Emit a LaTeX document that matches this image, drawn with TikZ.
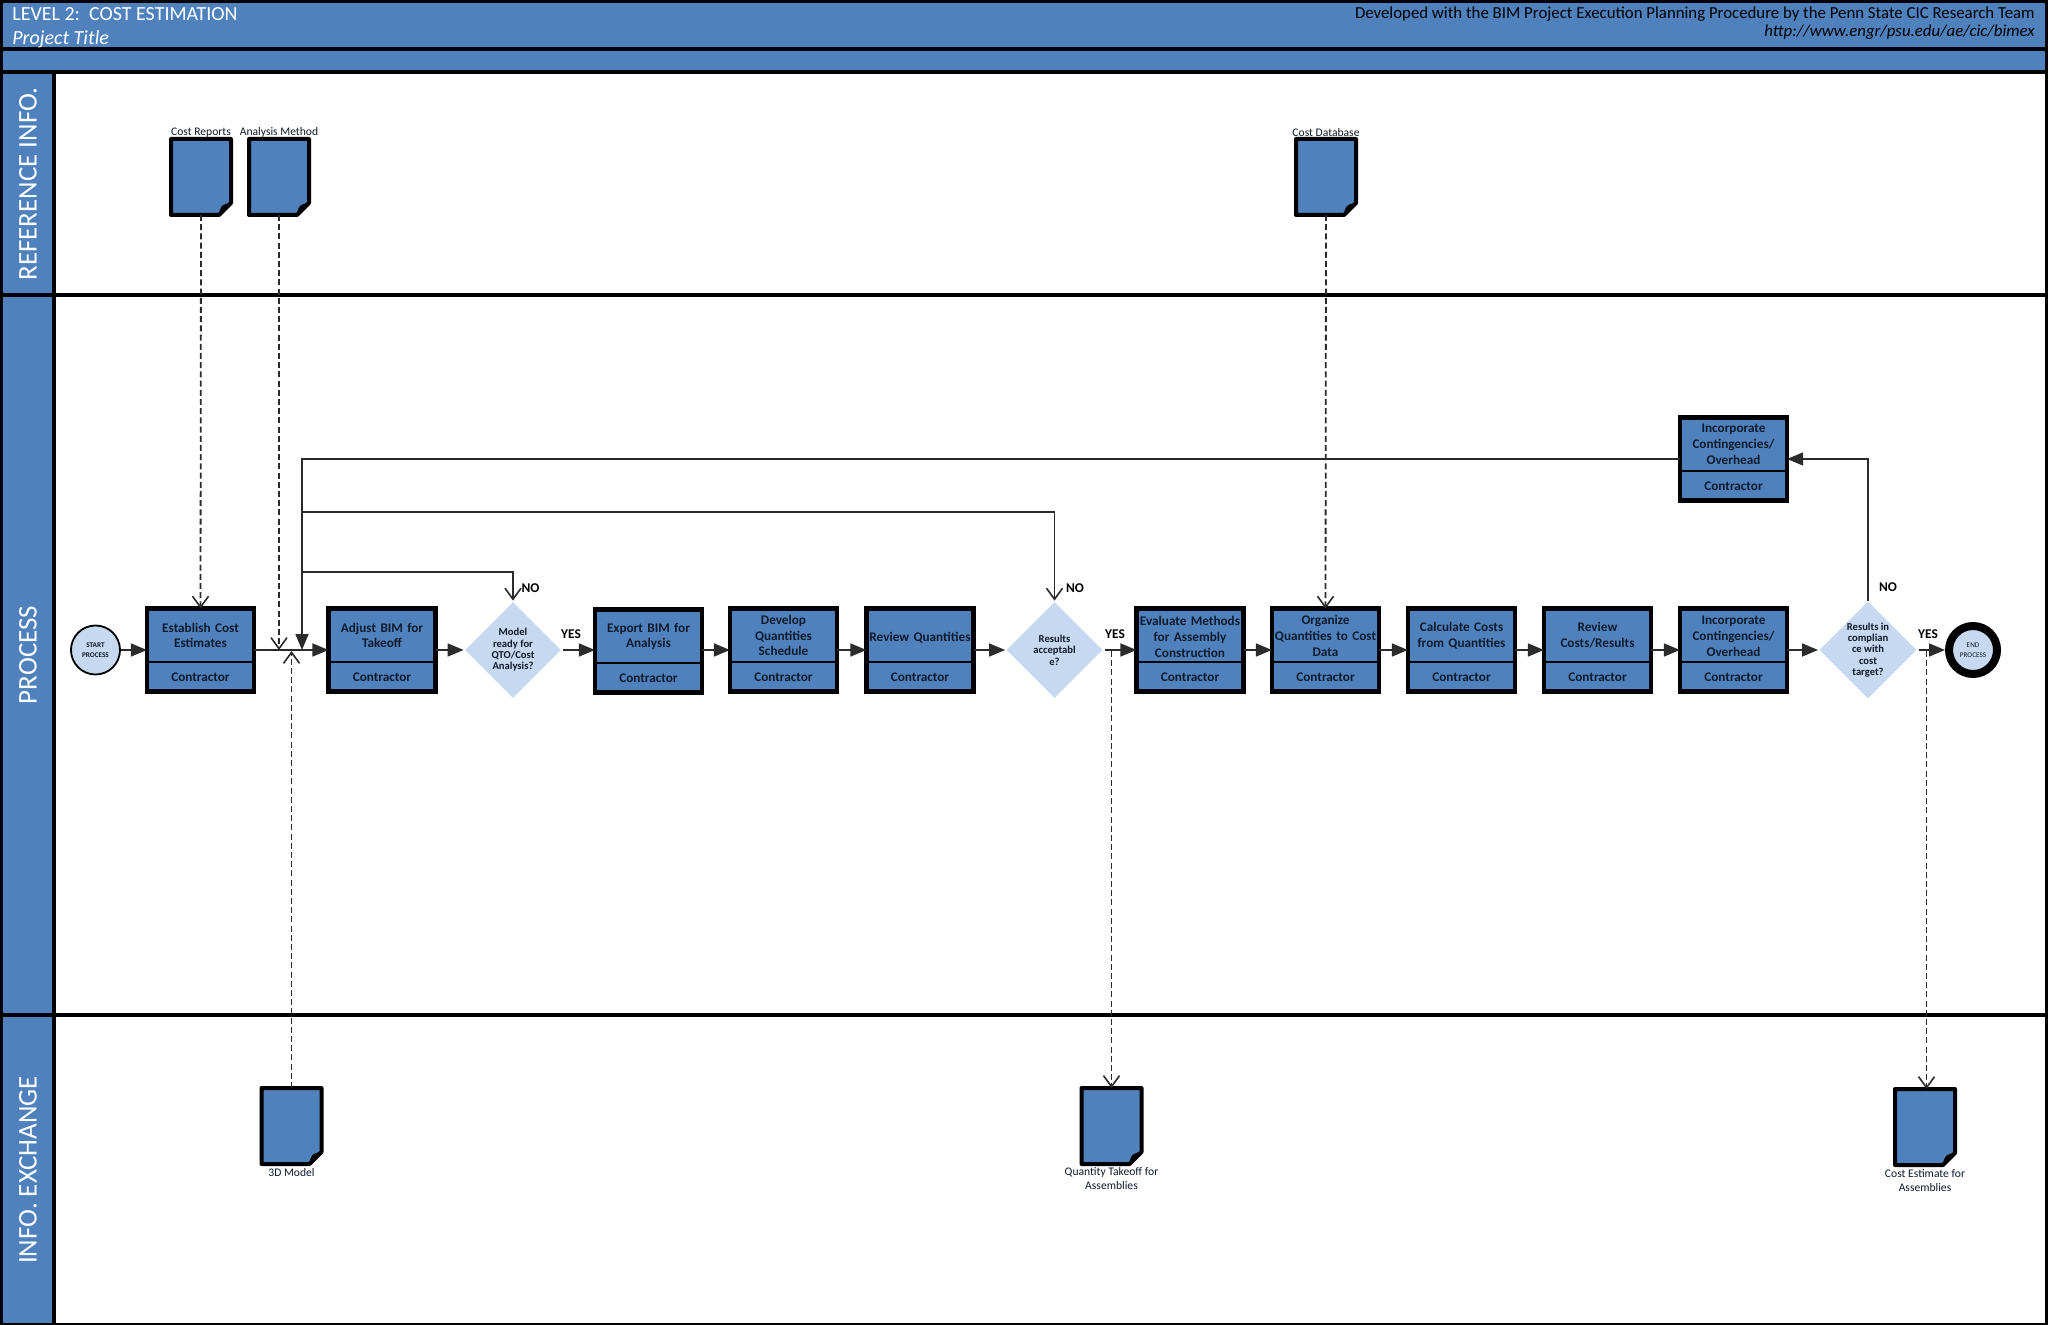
\documentclass[tikz,border=0pt]{standalone}
\usepackage{fontspec}
\setmainfont{Carlito}
\usetikzlibrary{arrows.meta,shapes.geometric,calc}
\definecolor{bimblue}{HTML}{4F81BD}
\definecolor{bimlight}{HTML}{C6D9F0}
\definecolor{bimink}{HTML}{0F1B2D}
\definecolor{bimline}{HTML}{2B2B2B}
\tikzset{
  x=0.5pt,y=-0.5pt,
  band/.style={fill=bimblue,draw=black,line width=1.6pt},
  pane/.style={fill=white,draw=black,line width=1.6pt},
  lanetext/.style={rotate=90,text=white,font=\fontsize{13.5}{15}\selectfont},
  taskframe/.style={fill=bimblue,draw=black,line width=2.2pt,minimum width=53.6pt,minimum height=41.4pt,inner sep=0pt,outer sep=0pt},
  tasktext/.style={text=bimink,font=\bfseries\fontsize{6.6}{7.9}\selectfont,align=center,inner sep=0pt,text width=56pt},
  query/.style={diamond,aspect=1,fill=bimlight,text=bimink,inner sep=0pt,minimum width=48pt,minimum height=48pt,align=center,font=\bfseries\fontsize{5.3}{5.7}\selectfont},
  docframe/.style={minimum width=30pt,minimum height=38pt,inner sep=0pt,outer sep=0pt},
  doclabel/.style={text=bimink,font=\fontsize{5.8}{7}\selectfont,align=center,inner sep=0pt},
  tag/.style={text=black,font=\bfseries\fontsize{6.7}{7}\selectfont,inner sep=0pt},
  flow/.style={draw=bimline,line width=0.8pt,-{Triangle[length=8pt,width=6.5pt]}},
  back/.style={draw=bimline,line width=0.8pt,-{Straight Barb[length=5.5pt,width=8pt,line width=0.8pt]}},
  info/.style={draw=bimline,line width=0.9pt,dash pattern=on 3pt off 1.6pt,-{Straight Barb[length=5.5pt,width=8pt,line width=0.8pt,sep=0pt]}},
}
\newcommand{\taskbox}[5]{% name, cx, cy, upper text y, text
  \node[taskframe] (#1) at (#2,#3) {};
  \draw[black,line width=1pt] ($(#1.west)+(0,12)$) -- ($(#1.east)+(0,12)$);
  \node[tasktext] (#1-t) at (#2,#4) {#5};
  \node[tasktext] (#1-c) at ($(#1.south)+(0,-14)$) {Contractor};
}
\newcommand{\docbox}[3]{% name, cx, cy
  \node[docframe] (#1) at (#2,#3) {};
  \draw[fill=bimblue,draw=black,line width=2pt,line join=round]
    (#1.north west) -- (#1.north east) -- ($(#1.south east)+(0,-12)$) -- ($(#1.south east)+(-12,0)$) -- (#1.south west) -- cycle;
  \fill[black] ($(#1.south east)+(-12,0)$) -- ($(#1.south east)+(0,-12)$) .. controls ($(#1.south east)+(-9,-11)$) and ($(#1.south east)+(-11,-9)$) .. cycle;
}
\begin{document}
\begin{tikzpicture}
\useasboundingbox (0,0) rectangle (2048,1325);
% bands
\draw[band] (1,1) rectangle (2047,49);
\draw[band] (1,49) rectangle (2047,72);
\draw[pane] (54,72) rectangle (2047,295);
\draw[pane] (54,295) rectangle (2047,1015);
\draw[pane] (54,1015) rectangle (2047,1325);
\draw[band] (1,72) rectangle (54,295);
\draw[band] (1,295) rectangle (54,1015);
\draw[band] (1,1015) rectangle (54,1325);
% header text
\node[anchor=west,text=white,inner sep=0pt,font=\fontsize{10}{11}\selectfont] (head1) at (12,14) {LEVEL 2:\ \ COST ESTIMATION};
\node[anchor=west,text=white,inner sep=0pt,font=\itshape\fontsize{10}{11}\selectfont] (head2) at (12,39.5) {Project Title};
\node[anchor=east,text=black,inner sep=0pt,font=\fontsize{8.4}{11}\selectfont] (head3) at (2035,14) {Developed with the BIM Project Execution Planning Procedure by the Penn State CIC Research Team};
\node[anchor=east,text=black,inner sep=0pt,font=\itshape\fontsize{8.4}{11}\selectfont] (head4) at (2035,32.5) {http://www.engr/psu.edu/ae/cic/bimex};
% lane titles
\node[lanetext] (lane1) at (28,184) {REFERENCE INFO.};
\node[lanetext] (lane2) at (28,655) {PROCESS};
\node[lanetext] (lane3) at (28,1170) {INFO. EXCHANGE};
% process
\node[circle,draw=black,line width=0.9pt,fill=bimlight,minimum size=24.5pt,inner sep=0pt,align=center,text=bimink,font=\bfseries\fontsize{3.6}{5}\selectfont] (start) at (95.5,650) {START\\PROCESS};
\taskbox{establish}{200.5}{650}{635.5}{Establish Cost\\Estimates}
\taskbox{adjust}{382}{650}{635.5}{Adjust BIM for\\Takeoff}
\node[query] (dmodel) at (513,650) {Model\\ready for\\QTO/Cost\\Analysis?};
\taskbox{export}{648.5}{651}{636.5}{Export BIM for\\Analysis}
\taskbox{develop}{783.5}{650}{635.5}{Develop\\Quantities\\Schedule}
\taskbox{review}{920}{650}{638}{Review Quantities}
\node[query] (dresult) at (1054.5,650) {Results\\acceptabl\\e?};
\taskbox{evaluate}{1190}{650}{637}{Evaluate Methods\\for Assembly\\Construction}
\taskbox{organize}{1325.5}{650}{636}{Organize\\Quantities to Cost\\Data}
\taskbox{calculate}{1461.5}{650}{635.5}{Calculate Costs\\from Quantities}
\taskbox{reviewc}{1597.5}{650}{635.5}{Review\\Costs/Results}
\taskbox{incorp}{1733.5}{650}{636.5}{Incorporate\\Contingencies/\\Overhead}
\taskbox{incorptop}{1733.5}{459}{444}{Incorporate\\Contingencies/\\Overhead}
\node[query] (dtarget) at (1868,650) {Results in\\complian\\ce with\\cost\\target?};
\node[circle,draw=black,line width=4pt,fill=bimlight,minimum size=24pt,inner sep=0pt,align=center,text=bimink,font=\fontsize{3.6}{5}\selectfont] (endp) at (1973,650) {END\\PROCESS};
% documents
\docbox{dreports}{201}{177}
\docbox{dmethod}{279}{177}
\docbox{ddatabase}{1326}{177}
\docbox{dmodelf}{291.5}{1126}
\docbox{dquantity}{1111.5}{1126}
\docbox{destimate}{1925}{1127}
\node[doclabel] (lreports) at (201,132.5) {Cost Reports};
\node[doclabel] (lmethod) at (279,132.5) {Analysis Method};
\node[doclabel] (ldatabase) at (1326,132.5) {Cost Database};
\node[doclabel] (lmodelf) at (291.5,1172.5) {3D Model};
\node[doclabel,anchor=north] (lquantity) at (1111.5,1167.5) {Quantity Takeoff for\\Assemblies};
\node[doclabel,anchor=north] (lestimate) at (1925,1169) {Cost Estimate for\\Assemblies};
% main flow
\coordinate (jn) at (302,650);
\coordinate (jtop) at (302,459);
\coordinate (jmid) at (302,512);
\coordinate (jlow) at (302,572);
\draw[flow] (start.east) -- (establish.west);
\draw[flow] (establish.east) -- (adjust.west);
\draw[flow] (adjust.east) -- ($(dmodel.west)+(-1,0)$);
\draw[flow,shorten <=1pt] (dmodel.east) -- (dmodel.east -| export.west);
\draw[flow] (export.east |- dmodel.east) -- (develop.west);
\draw[flow] (develop.east) -- (review.west);
\draw[flow] (review.east) -- ($(dresult.west)+(-1,0)$);
\draw[flow,shorten <=1pt] (dresult.east) -- (evaluate.west);
\draw[flow] (evaluate.east) -- (organize.west);
\draw[flow] (organize.east) -- (calculate.west);
\draw[flow] (calculate.east) -- (reviewc.west);
\draw[flow] (reviewc.east) -- (incorp.west);
\draw[flow] (incorp.east) -- ($(dtarget.west)+(-1,0)$);
\draw[flow,shorten <=1pt] (dtarget.east) -- (endp.west);
% loops
\draw[flow] (dtarget.north) -- (dtarget.north |- incorptop.east) -- (incorptop.east);
\draw[flow] (incorptop.west) -- (jtop) -- (jn);
\draw[back] (jmid) -- (dresult.north |- jmid) -- ($(dresult.north)+(0,-1)$);
\draw[back] (jlow) -- (dmodel.north |- jlow) -- ($(dmodel.north)+(0,-1)$);
% info flows
\draw[info] (dreports.south) -- (establish.north);
\coordinate (jmethod) at (279,650);
\draw[info] (dmethod.south) -- (jmethod);
\draw[info] (ddatabase.south) -- (organize.north);
\coordinate (jmodelf) at (291.5,651);
\draw[info] (dmodelf.north) -- (jmodelf);
\coordinate (jquant) at (1111.5,651);
\draw[info] (jquant) -- (dquantity.north);
\coordinate (jest) at (1926.5,651);
\draw[info] (jest) -- (jest |- destimate.north);
% tags
\node[tag] (no1) at (530.5,588) {NO};
\node[tag] (yes1) at (571,634) {YES};
\node[tag] (no2) at (1075,588) {NO};
\node[tag] (yes2) at (1115,634) {YES};
\node[tag] (no3) at (1888,587) {NO};
\node[tag] (yes3) at (1928,634) {YES};
\end{tikzpicture}
\end{document}
